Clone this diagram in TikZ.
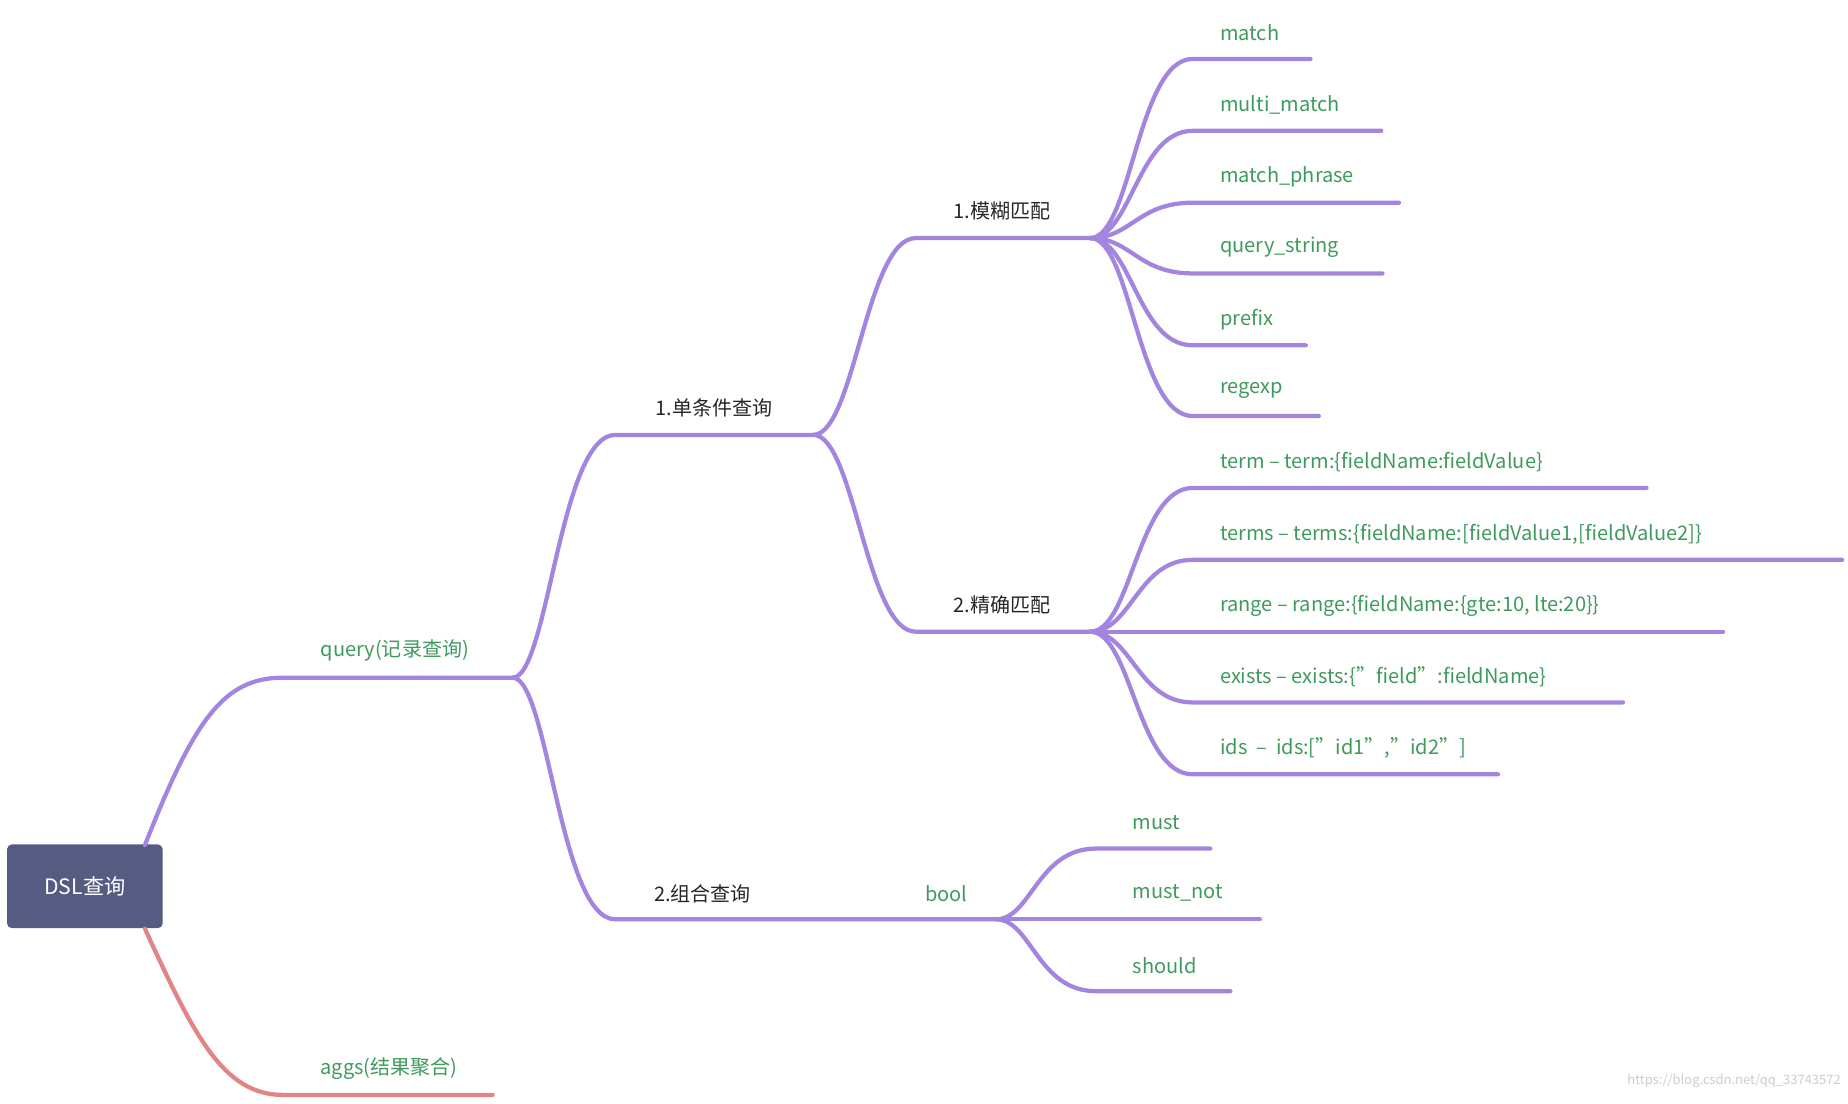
\documentclass[tikz,border=0pt]{standalone}
\usepackage{fontspec}
\setmainfont{Noto Sans CJK SC}
\definecolor{pur}{HTML}{A385E0}
\definecolor{grn}{HTML}{3E9A5C}
\definecolor{rd}{HTML}{E08484}
\definecolor{rootc}{HTML}{565B82}
\tikzset{
 br/.style={draw=pur,line width=3.6pt,line cap=round},
 rb/.style={draw=rd,line width=3.6pt,line cap=round},
 gt/.style={text=grn,font=\fontsize{17}{20}\selectfont,inner sep=0pt},
 bt/.style={text=black!85,font=\fontsize{17}{20}\selectfont,inner sep=0pt},
}
\begin{document}
\begin{tikzpicture}[x=1pt,y=-1pt]
\useasboundingbox (0,0) rectangle (1568,936);
% root
\node[fill=rootc,rounded corners=4pt,minimum width=132pt,minimum height=71pt,text=white,font=\fontsize{18}{20}\selectfont] (root) at (72,752) {DSL查询};
\coordinate (rt) at (123,717);
\coordinate (rbm) at (123,788);
% query
\coordinate (q0) at (240,575); \coordinate (q1) at (435,575);
\draw[br] (rt) .. controls (165,610) and (190,575) .. (q0) -- (q1);
\node[gt] (q) at (335,552) {query(记录查询)};
% aggs
\coordinate (a0) at (240,929); \coordinate (a1) at (418,929);
\draw[rb] (rbm) .. controls (165,880) and (190,929) .. (a0) -- (a1);
\node[gt] (ag) at (330,907) {aggs(结果聚合)};
% level 2
\coordinate (s0) at (522,369); \coordinate (s1) at (690,369);
\coordinate (c0) at (522,780); \coordinate (c1) at (845,780);
\draw[br] (q1) .. controls (465,575) and (475,369) .. (s0) -- (s1);
\draw[br] (q1) .. controls (465,575) and (475,780) .. (c0) -- (c1);
\node[bt] (sn) at (606,346) {1.单条件查询};
\node[bt] (cn) at (596,758) {2.组合查询};
\node[gt] (bool) at (803,758) {bool};
% level 3
\coordinate (m0) at (777,202); \coordinate (m1) at (925,202);
\coordinate (e0) at (777,536); \coordinate (e1) at (925,536);
\draw[br] (s1) .. controls (725,369) and (735,202) .. (m0) -- (m1);
\draw[br] (s1) .. controls (725,369) and (735,536) .. (e0) -- (e1);
\node[bt] (mn) at (850,179) {1.模糊匹配};
\node[bt] (en) at (850,513) {2.精确匹配};
% fuzzy leaves
\foreach \y/\e/\t [count=\i] in {50/1112/match,111/1172/multi\_match,172/1187/match\_phrase,232/1173/query\_string,293/1108/prefix,353/1119/regexp}{
 \coordinate (f\i) at (1012,\y); \coordinate (fe\i) at (\e,\y);
 \draw[br] (m1) .. controls (960,202) and (965,\y) .. (f\i) -- (fe\i);
 \node[gt,anchor=west] (ft\i) at (1035,\y-22) {\t};
}
% exact leaves
\foreach \y/\e/\t [count=\i] in {414/1397/{term -- term:\{fieldName:fieldValue\}},475/1563/{terms -- terms:\{fieldName:[fieldValue1,[fieldValue2]\}},536/1462/{range -- range:\{fieldName:\{gte:10, lte:20\}\}},596/1377/{exists -- exists:\{"field":fieldName\}},657/1271/{ids \ -- \ ids:["id1","id2"]}}{
 \coordinate (x\i) at (1012,\y); \coordinate (xe\i) at (\e,\y);
 \draw[br] (e1) .. controls (960,536) and (965,\y) .. (x\i) -- (xe\i);
 \node[gt,anchor=west] (xt\i) at (1035,\y-22) {\t};
}
% bool leaves
\foreach \y/\e/\t [count=\i] in {720/1027/must,780/1069/must\_not,841/1044/should}{
 \coordinate (b\i) at (930,\y); \coordinate (be\i) at (\e,\y);
 \draw[br] (c1) .. controls (875,780) and (880,\y) .. (b\i) -- (be\i);
 \node[gt,anchor=west] (bt\i) at (961,\y-22) {\t};
}
\node[text=black!20,font=\fontsize{11}{12}\selectfont,anchor=east,inner sep=0pt] (wm) at (1562,917) {https://blog.csdn.net/qq\_33743572};
\end{tikzpicture}
\end{document}
